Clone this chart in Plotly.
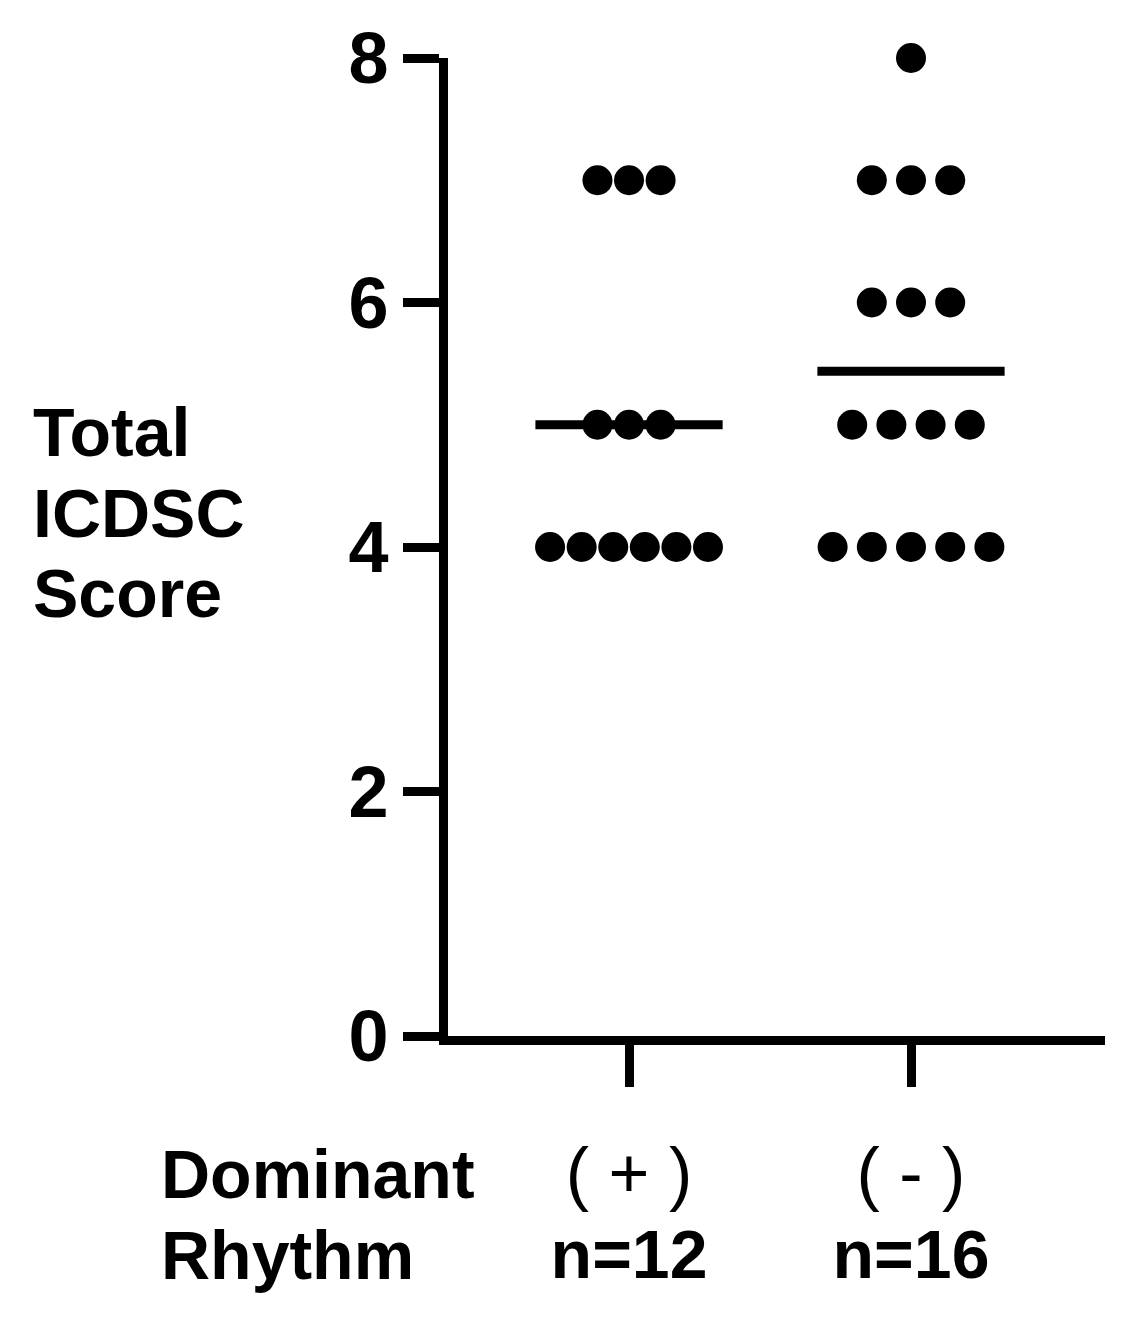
import numpy as np
import plotly.graph_objects as go

# data
groups = ["( + )", "( - )"]
n_labels = ["n=12", "n=16"]
scores_pos = [7, 7, 7, 5, 5, 5, 4, 4, 4, 4, 4, 4]
scores_neg = [8, 7, 7, 7, 6, 6, 6, 5, 5, 5, 5, 4, 4, 4, 4, 4]
y_ticks = [0, 2, 4, 6, 8]

FONT = "Liberation Sans, Arial, sans-serif"
spacing = [0.112, 0.139]   # horizontal gap between stacked dots, per column
half_bar = 0.332

fig = go.Figure()

for gi, scores in enumerate([scores_pos, scores_neg]):
    xs, ys = [], []
    for val in sorted(set(scores), reverse=True):
        k = scores.count(val)
        offs = (np.arange(k) - (k - 1) / 2) * spacing[gi]
        xs += list(gi + offs)
        ys += [val] * k
    fig.add_trace(go.Scatter(x=xs, y=ys, mode="markers", cliponaxis=False,
                             marker=dict(size=30, color="black", line=dict(width=0)),
                             showlegend=False, hoverinfo="skip"))
    m = np.mean(scores)
    fig.add_trace(go.Scatter(x=[gi - half_bar, gi + half_bar], y=[m, m], mode="lines",
                             line=dict(color="black", width=9), cliponaxis=False,
                             showlegend=False, hoverinfo="skip"))

fig.update_layout(
    width=1141, height=1333,
    margin=dict(l=440, r=44, t=50, b=305),
    plot_bgcolor="white", paper_bgcolor="white",
    font=dict(family=FONT, color="black"),
)

fig.update_yaxes(
    range=[0, 8], tickvals=y_ticks, ticktext=[f"<b>{v}</b>" for v in y_ticks],
    showline=True, linecolor="black", linewidth=9,
    ticks="outside", ticklen=36, tickwidth=9, tickcolor="black",
    tickfont=dict(size=72, family=FONT), showgrid=False, zeroline=False,
    ticklabelstandoff=0, automargin=False,
)
fig.update_xaxes(
    range=[-0.642, 1.688], tickvals=[0, 1],
    ticktext=[f"<span style='font-size:70px'>{g}</span><br><span style='font-size:68px'><b>{n}</b></span>"
              for g, n in zip(groups, n_labels)],
    showline=True, linecolor="black", linewidth=9,
    ticks="outside", ticklen=42, tickwidth=9, tickcolor="black",
    tickfont=dict(size=62, family=FONT), showgrid=False, zeroline=False,
    ticklabelstandoff=36, automargin=False,
)

fig.add_annotation(text="<span style='font-size:68px'><b>Total<br>ICDSC<br>Score</b></span>",
                   xref="paper", yref="paper",
                   x=-0.635, y=0.535, xanchor="left", yanchor="middle", align="left",
                   showarrow=False, font=dict(size=62, family=FONT))
fig.add_annotation(text="<span style='font-size:68px'><b>Dominant<br>Rhythm</b></span>",
                   xref="paper", yref="paper",
                   x=-0.44, y=-0.183, xanchor="left", yanchor="middle", align="left",
                   showarrow=False, font=dict(size=62, family=FONT))

fig.write_html("out.html")
